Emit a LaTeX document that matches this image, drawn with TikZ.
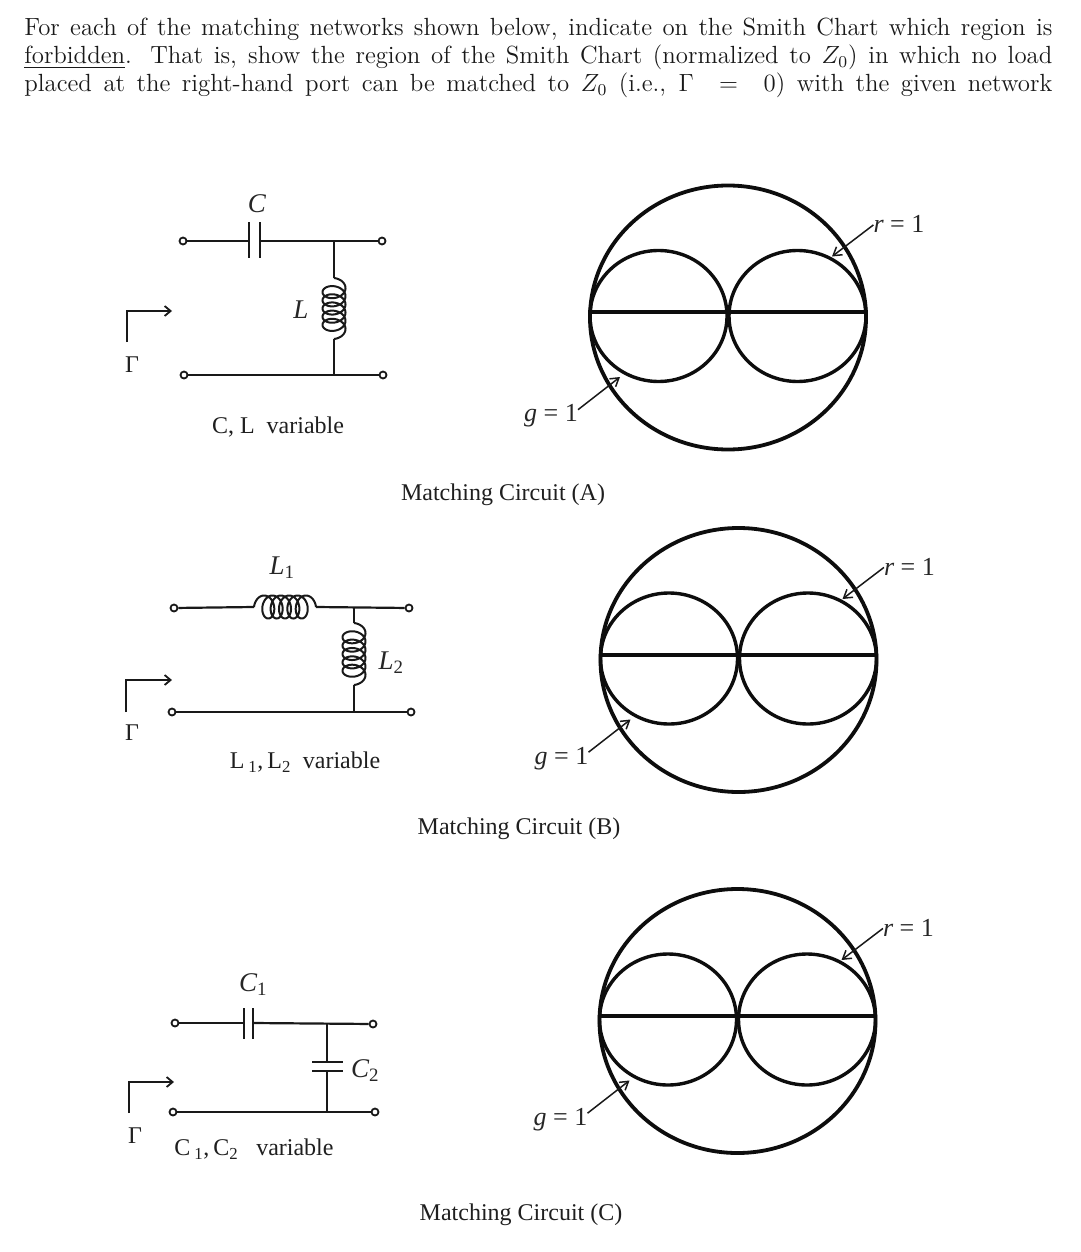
\documentclass[tikz,border=0pt]{standalone}
\usepackage{fontspec}
\usepackage{amsmath}
\usetikzlibrary{shapes.geometric,arrows.meta}
\newfontfamily\ser{Liberation Serif}
\tikzset{
  wire/.style={line width=2.2pt,draw=black!90},
  term/.style={circle,draw=black!90,fill=white,line width=1.8pt,minimum size=7pt,inner sep=0pt},
  outerc/.style={ellipse,draw=black!95,line width=3.8pt,minimum width=276pt,minimum height=264pt,inner sep=0pt},
  innerc/.style={ellipse,draw=black!95,line width=3.4pt,minimum width=137pt,minimum height=131pt,inner sep=0pt},
  axis/.style={line width=4pt,draw=black!95},
  pointer/.style={line width=1.5pt,draw=black!90,-{Straight Barb[length=8pt,width=10pt,line width=1.5pt]}},
  gamarrow/.style={line width=2pt,draw=black!90,-{Straight Barb[length=6pt,width=10pt,line width=1.8pt]}},
  lab/.style={inner sep=0pt,font=\ser\fontsize{24}{28}\selectfont,text=black!88},
  chartlab/.style={inner sep=0pt,font=\ser\fontsize{26}{28}\selectfont,text=black!85},
  smalllab/.style={inner sep=0pt,font=\ser\itshape\fontsize{27}{28}\selectfont,text=black!85},
  headline/.style={inner sep=0pt,anchor=base west,scale=2.07,transform shape,font=\fontsize{12}{14}\selectfont,text=black!90},
}
\newcommand{\smithchart}[1]{%
  \node[outerc] (outer#1) at (0,0) {};
  \node[innerc] (left#1) at (-69.5,-1.5) {};
  \node[innerc] (right#1) at (69.5,-1.5) {};
  \draw[axis] (outer#1.west |- 0,-5.5) -- (outer#1.east |- 0,-5.5);
  \node[chartlab,anchor=base] (r#1) at (171,-85) {\itshape r\upshape\ =\ 1};
  \node[chartlab,anchor=base] (g#1) at (-177,104) {\itshape g\upshape\ =\ 1};
  \coordinate (rtip#1) at (104,-61);
  \coordinate (gtip#1) at (-108,59.5);
  \draw[pointer] (r#1.west) ++(0,1) -- (rtip#1);
  \draw[pointer] (g#1.east) ++(0,-6) -- (gtip#1);
}
% coil along y from (#1,#2), length #3
\newcommand{\vcoil}[3]{\draw[wire,line width=2pt] plot[smooth,domain=0:1980,samples=240,variable=\t]
  ({#1+11.5*sin(\t)},{#2+8+(#3-16)*(\t/1980)-8*cos(\t)});}
\newcommand{\hcoil}[3]{\draw[wire,line width=2pt] plot[smooth,domain=0:1980,samples=240,variable=\t]
  ({#1+8+(#3-16)*(\t/1980)-8*cos(\t)},{#2-11.5*sin(\t)});}
\begin{document}
\begin{tikzpicture}[x=1pt,y=-1pt]
\useasboundingbox (0,0) rectangle (1080,1252);
% header
\node[headline] (h1) at (24,36) {\makebox[496.6pt][s]{For each of the matching networks shown below, indicate on the Smith Chart which region is}};
\node[headline] (h2) at (24,64) {\makebox[496.6pt][s]{\underline{forbidden}. That is, show the region of the Smith Chart (normalized to $Z_0$) in which no load}};
\node[headline] (h3) at (24,92) {\makebox[496.6pt][s]{placed at the right-hand port can be matched to $Z_0$ (i.e., $\Gamma\;=\;0$) with the given network}};

% Circuit A
\node[term] (a1) at (183,241) {};
\node[term] (a2) at (382,241) {};
\node[term] (a3) at (184,375) {};
\node[term] (a4) at (383,375) {};
\coordinate (acl) at (249,241);
\coordinate (acr) at (260,241);
\coordinate (aj) at (334,241);
\coordinate (ajb) at (334,375);
\coordinate (ali) at (334,278);
\coordinate (alo) at (334,339);
\draw[wire] (a1) -- (acl);
\draw[wire] (acr) -- (a2);
\draw[wire] (249,222) -- (249,258);
\draw[wire] (260,222) -- (260,258);
\draw[wire] (a3) -- (a4);
\draw[wire] (aj) -- (ali);
\draw[wire] (alo) -- (ajb);
\vcoil{334}{278}{61}
\node[smalllab] (alabC) at (257,204) {C};
\node[smalllab] (alabL) at (301,310) {L};
\node[lab] (agam) at (132,365) {Γ};
\coordinate (ag1) at (127,342);
\coordinate (ag2) at (127,311);
\coordinate (ag3) at (172,311);
\draw[gamarrow] (ag1) -- (ag2) -- (ag3);
\node[lab] (acap) at (278,427) {C, L\ \ variable};
\begin{scope}[shift={(728,317.5)}]\smithchart{A}\end{scope}
\node[lab] (atitle) at (503,495) {Matching Circuit (A)};

% Circuit B
\node[term] (b1) at (174,608) {};
\node[term] (b2) at (409,608) {};
\node[term] (b3) at (172,712) {};
\node[term] (b4) at (411,712) {};
\coordinate (bl1) at (254,607);
\coordinate (bl2) at (316,607);
\coordinate (bj) at (354,608);
\coordinate (bjb) at (354,712);
\coordinate (bli) at (354,623);
\coordinate (blo) at (354,685);
\draw[wire] (b1) -- (bl1);
\draw[wire] (bl2) -- (b2);
\draw[wire] (b3) -- (b4);
\draw[wire] (bj) -- (bli);
\draw[wire] (blo) -- (bjb);
\hcoil{254}{607}{62}
\vcoil{354}{623}{62}
\node[smalllab] (blabL) at (282,568) {L\textsubscript{\upshape 1}};
\node[smalllab] (blabM) at (391,663) {L\textsubscript{\upshape 2}};
\node[lab] (bgam) at (132,733) {Γ};
\coordinate (bg1) at (126,712);
\coordinate (bg2) at (126,680);
\coordinate (bg3) at (172,680);
\draw[gamarrow] (bg1) -- (bg2) -- (bg3);
\node[lab] (bcap) at (305,762) {L\,\textsubscript{1},\,L\textsubscript{2}\ \ variable};
\begin{scope}[shift={(738.5,660)}]\smithchart{B}\end{scope}
\node[lab] (btitle) at (519,829) {Matching Circuit (B)};

% Circuit C
\node[term] (c1) at (175,1023) {};
\node[term] (c2) at (373,1024) {};
\node[term] (c3) at (173,1112) {};
\node[term] (c4) at (375,1112) {};
\coordinate (ccl) at (244,1023);
\coordinate (ccr) at (253,1023);
\coordinate (cj) at (327,1023);
\coordinate (cjb) at (327,1112);
\coordinate (cp1) at (327,1062);
\coordinate (cp2) at (327,1071);
\draw[wire] (c1) -- (ccl);
\draw[wire] (ccr) -- (c2);
\draw[wire] (244,1008) -- (244,1039);
\draw[wire] (253,1008) -- (253,1039);
\draw[wire] (c3) -- (c4);
\draw[wire] (cj) -- (cp1);
\draw[wire] (cp2) -- (cjb);
\draw[wire] (312,1062) -- (343,1062);
\draw[wire] (312,1071) -- (343,1071);
\node[smalllab] (clabC) at (253,985) {C\textsubscript{\upshape 1}};
\node[smalllab] (clabD) at (365,1071) {C\textsubscript{\upshape 2}};
\node[lab] (cgam) at (135,1136) {Γ};
\coordinate (cg1) at (129,1113);
\coordinate (cg2) at (129,1082);
\coordinate (cg3) at (174,1082);
\draw[gamarrow] (cg1) -- (cg2) -- (cg3);
\node[lab] (ccap) at (254,1149) {C\,\textsubscript{1},\,C\textsubscript{2}\ \ \ variable};
\begin{scope}[shift={(737.5,1021)}]\smithchart{C}\end{scope}
\node[lab] (ctitle) at (521,1215) {Matching Circuit (C)};
\end{tikzpicture}
\end{document}
